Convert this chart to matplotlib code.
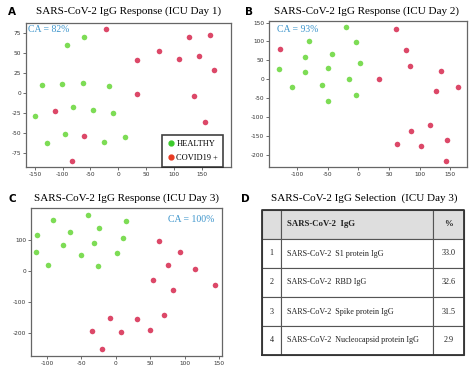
import matplotlib
matplotlib.use("Agg")
import matplotlib.pyplot as plt
from matplotlib.lines import Line2D

plt.rcParams['axes.unicode_minus'] = False

# ---------------- data ----------------
# Panel A (ICU Day 1)
a_healthy_x = [-93, -61, -138, -101, -64, -17, -81, -45, -9, -149, -96, -128, -25, 12]
a_healthy_y = [61, 70, 11, 12, 13, 9, -17, -21, -25, -28, -51, -62, -61, -54]
a_covid_x = [-22, 34, 73, 110, 127, 166, 146, 173, 34, 136, 156, -113, -62, -83]
a_covid_y = [81, 42, 53, 43, 71, 73, 47, 29, -1, -3, -36, -22, -53, -85]

# Panel B (ICU Day 2)
b_healthy_x = [-21, -80, -4, -43, -88, -129, -49, 3, -88, -15, -109, -59, -4, -49]
b_healthy_y = [137, 100, 98, 67, 59, 27, 29, 42, 19, 0, -20, -15, -41, -58]
b_covid_x = [-128, 61, 78, 84, 34, 135, 126, 162, 117, 86, 145, 63, 102, 142]
b_covid_y = [79, 132, 77, 35, -1, 21, -31, -21, -122, -138, -161, -172, -178, -218]

# Panel C (ICU Day 3)
c_healthy_x = [-91, -41, 15, -25, -66, -115, -77, -32, 11, -116, -50, 2, -98, -26]
c_healthy_y = [165, 180, 160, 137, 126, 117, 85, 91, 107, 62, 52, 58, 20, 15]
c_covid_x = [63, 93, 75, 115, 54, 83, 144, 70, 31, -9, -35, 7, 50, -20]
c_covid_y = [96, 60, 20, 7, -28, -61, -44, -142, -154, -151, -194, -197, -190, -250]

ca_labels = ["CA = 82%", "CA = 93%", "CA = 100%"]
titles = ["SARS-CoV-2 IgG Response (ICU Day 1)",
          "SARS-CoV-2 IgG Response (ICU Day 2)",
          "SARS-CoV-2 IgG Response (ICU Day 3)"]
legend_labels = ["HEALTHY", "COVID19 +"]

table_title = "SARS-CoV-2 IgG Selection  (ICU Day 3)"
table_header = ["", "SARS-CoV-2  IgG", "%"]
table_index = ["1", "2", "3", "4"]
table_names = ["SARS-CoV-2  S1 protein IgG", "SARS-CoV-2  RBD IgG",
               "SARS-CoV-2  Spike protein IgG", "SARS-CoV-2  Nucleocapsid protein IgG"]
table_pct = ["33.0", "32.6", "31.5", "2.9"]

# ---------------- style ----------------
GREEN = "#7ddc55"
RED = "#dc4868"
LEG_GREEN = "#3ccc2c"
LEG_RED = "#e83a22"
CA_BLUE = "#3d95cc"
SERIF = "Liberation Serif"

W, H = 474, 370
fig = plt.figure(figsize=(W / 100, H / 100), dpi=100)


def fax(x0, y0, x1, y1):
    return fig.add_axes([x0 / W, 1 - y1 / H, (x1 - x0) / W, (y1 - y0) / H])


def style_axes(ax):
    for s in ax.spines.values():
        s.set_color("#666666")
        s.set_linewidth(0.9)
    ax.tick_params(labelsize=4.2, length=2, width=0.5, pad=1.5,
                   colors="#333333")


def scatter_panel(ax, hx, hy, cx, cy):
    ax.scatter(hx, hy, s=16, color=GREEN, linewidths=0, zorder=3)
    ax.scatter(cx, cy, s=16, color=RED, linewidths=0, zorder=3)
    style_axes(ax)


# Panel A
axA = fax(26, 23, 231, 167)
scatter_panel(axA, a_healthy_x, a_healthy_y, a_covid_x, a_covid_y)
axA.set_xlim(-166, 203)
axA.set_ylim(-92, 88)
axA.set_xticks([-150, -100, -50, 0, 50, 100, 150])
axA.set_yticks([-75, -50, -25, 0, 25, 50, 75])
axA.text(0.012, 0.985, ca_labels[0], transform=axA.transAxes, ha="left", va="top",
         color=CA_BLUE, fontsize=7, family=SERIF)
handles = [Line2D([], [], marker="o", ls="", color=LEG_GREEN, markersize=3.5),
           Line2D([], [], marker="o", ls="", color=LEG_RED, markersize=3.5)]
leg = axA.legend(handles, legend_labels, loc="lower right",
                 bbox_to_anchor=(0.962, 0.0), borderaxespad=0.0, frameon=True,
                 fancybox=False, prop={"family": SERIF, "size": 6},
                 handletextpad=0.1, handlelength=1.0, borderpad=0.6,
                 labelspacing=0.7)
leg.get_frame().set_edgecolor("#111111")
leg.get_frame().set_linewidth(1.2)

# Panel B
axB = fax(269, 21, 467, 167)
scatter_panel(axB, b_healthy_x, b_healthy_y, b_covid_x, b_covid_y)
axB.set_xlim(-146, 177)
axB.set_ylim(-233, 154)
axB.set_xticks([-100, -50, 0, 50, 100, 150])
axB.set_yticks([-200, -150, -100, -50, 0, 50, 100, 150])
axB.text(0.04, 0.975, ca_labels[1], transform=axB.transAxes, ha="left", va="top",
         color=CA_BLUE, fontsize=7, family=SERIF)

# Panel C
axC = fax(31, 208, 222, 356)
scatter_panel(axC, c_healthy_x, c_healthy_y, c_covid_x, c_covid_y)
axC.set_xlim(-123, 154)
axC.set_ylim(-274, 203)
axC.set_xticks([-100, -50, 0, 50, 100, 150])
axC.set_yticks([-200, -100, 0, 100])
axC.text(0.96, 0.955, ca_labels[2], transform=axC.transAxes, ha="right", va="top",
         color=CA_BLUE, fontsize=7, family=SERIF)

# Titles and panel letters
TFS = 8.0
fig.text(128.5 / W, 1 - 11 / H, titles[0], ha="center", va="center", fontsize=TFS, family=SERIF)
fig.text(366 / W, 1 - 11 / H, titles[1], ha="center", va="center", fontsize=TFS, family=SERIF)
fig.text(127 / W, 1 - 198.5 / H, titles[2], ha="center", va="center", fontsize=TFS, family=SERIF)
fig.text(364.5 / W, 1 - 198.5 / H, table_title, ha="center", va="center", fontsize=TFS, family=SERIF)
for lx, ly, lt in [(12, 12, "A"), (249, 12, "B"), (12, 199, "C"), (245, 199, "D")]:
    fig.text(lx / W, 1 - ly / H, lt, ha="center", va="center", fontsize=7.5,
             fontweight="bold", family="DejaVu Sans")

# Panel D: table
axD = fax(262, 210, 464, 355)
axD.axis("off")
cell_text = [[i, n, p] for i, n, p in zip(table_index, table_names, table_pct)]
tbl = axD.table(cellText=cell_text, colLabels=table_header,
                colWidths=[19 / 202, 152 / 202, 31 / 202],
                bbox=[0, 0, 1, 1], cellLoc="center")
tbl.auto_set_font_size(False)
for (r, c), cell in tbl.get_celld().items():
    cell.set_edgecolor("#555555")
    cell.set_linewidth(0.8)
    txt = cell.get_text()
    txt.set_fontfamily(SERIF)
    txt.set_fontsize(5.9)
    txt.set_color("#222222")
    if r == 0:
        cell.set_facecolor("#dedede")
        txt.set_fontweight("bold")
        txt.set_fontsize(6.3)
    if c == 1:
        txt.set_ha("left")
        cell.PAD = 0.04
        cell._loc = "left"
axD.plot([0, 1, 1, 0, 0], [0, 0, 1, 1, 0], color="#333333", lw=1.3,
         transform=axD.transAxes, clip_on=False, zorder=5)

fig.savefig("out.png", dpi=100)
